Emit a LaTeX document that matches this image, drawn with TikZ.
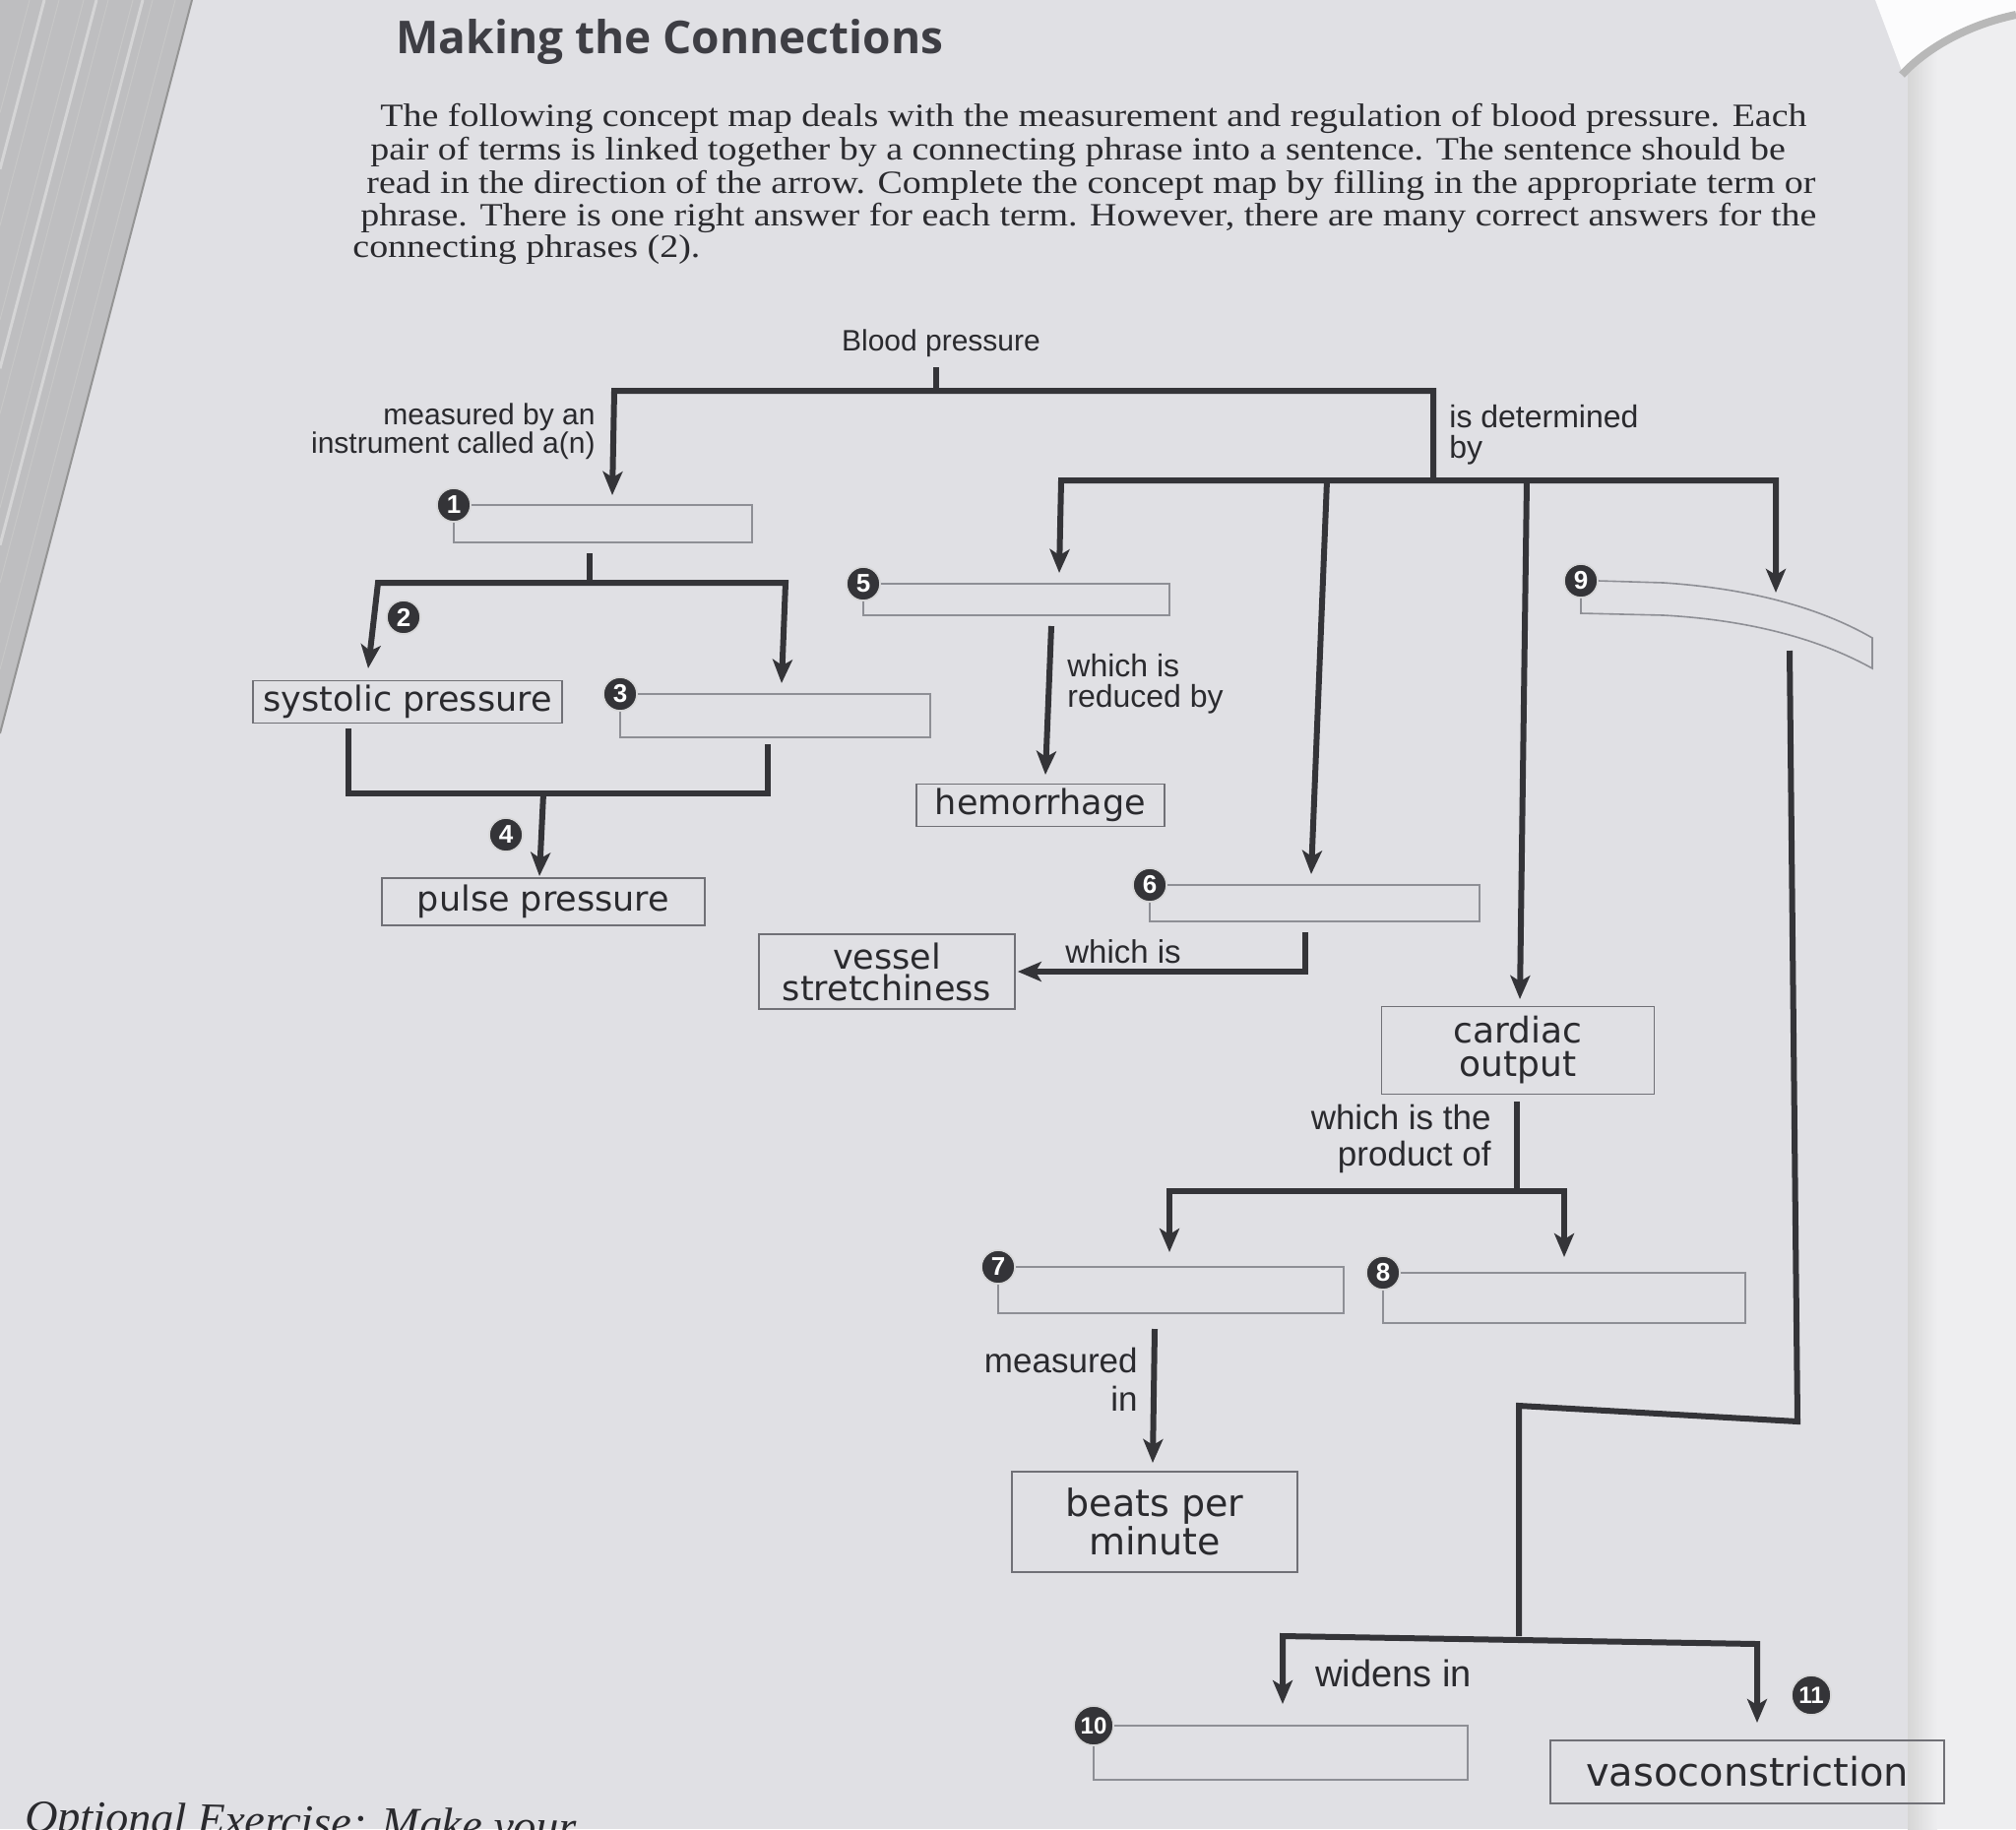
\documentclass[tikz,border=0pt]{standalone}
\usepackage{fontspec}
\setmainfont{Liberation Serif}
\newfontfamily\lblf{Liberation Sans}
\newfontfamily\termf{DejaVu Sans}
\newfontfamily\titlef{Open Sans}
\usetikzlibrary{arrows.meta}
\definecolor{pagebg}{RGB}{224,224,228}
\definecolor{ink}{RGB}{52,52,56}
\definecolor{txt}{RGB}{42,42,46}
\definecolor{titlec}{RGB}{62,62,68}
\definecolor{boxln}{RGB}{112,112,118}
\definecolor{blankln}{RGB}{142,143,149}
\definecolor{edgec}{RGB}{190,190,192}
\newcommand\blankbox[7][num]{%
  \node[#1] (#2n) at (#4,#5) {#3};
  \draw[blank] (#2n.east) -- (#6,#5) -- (#6,#7) -- (#4,#7) -- (#2n.south);
  \coordinate (#2) at ({(#4+#6)/2},{(#5+#7)/2});
}
\newcommand\paraline[1]{\scalebox{1.15}[1]{#1}}
\begin{document}
\begin{tikzpicture}[x=0.5pt,y=-0.5pt,
  line/.style={draw=ink,line width=3pt,line join=miter},
  arr/.style={line,-{Stealth[length=12pt,width=10pt,inset=3pt]}},
  arrb/.style={line,{Stealth[length=12pt,width=10pt,inset=3pt]}-{Stealth[length=12pt,width=10pt,inset=3pt]}},
  term/.style={draw=boxln,line width=0.8pt,text=txt,align=center,inner sep=0pt,
     font=\termf\fontsize{17.5}{16}\selectfont},
  num/.style={circle,fill=ink,draw=white!80!ink,line width=0.8pt,text=white,minimum size=17pt,inner sep=0pt,
     font=\lblf\bfseries\fontsize{13}{13}\selectfont},
  numsm/.style={num,minimum size=20pt,font=\lblf\bfseries\fontsize{12}{12}\selectfont},
  lbl/.style={text=txt,inner sep=0pt},
  blank/.style={draw=blankln,line width=0.8pt},
  para/.style={font=\fontsize{16.5}{16.5}\selectfont,text=txt,anchor=base west,inner sep=0pt}
]
\useasboundingbox (0,0) rectangle (2048,1858);
% page and photo surroundings
\fill[pagebg] (0,0) rectangle (2048,1858);
\fill[pagebg!55!white] (1938,0) rectangle (2048,1858);
\shade[left color=black!16,right color=pagebg!55!white] (1938,0) rectangle (1968,1858);
\fill[edgec] (0,0) -- (195,0) -- (0,745) -- cycle;
\foreach \a in {30,60,85,110,135,155,178} \draw[black!22,line width=0.5pt] (\a,0) -- (0,{\a*3.82});
\foreach \a in {45,98,145} \draw[white!35!edgec,line width=1.5pt] (\a,0) -- (0,{\a*3.82});
\draw[black!42,line width=1pt] (195,0) -- (0,745);
\fill[white!92!pagebg] (1905,0) -- (2048,0) -- (2048,12) .. controls (2000,22) and (1958,45) .. (1932,72) -- cycle;
\draw[black!28,line width=4pt] (2048,15) .. controls (2000,25) and (1958,48) .. (1932,76);

% heading and instructions
\node[font=\titlef\bfseries\fontsize{23}{23}\selectfont,text=titlec,anchor=base west,inner sep=0pt] (title) at (402,54) {Making the Connections};
\node[para] (p1) at (386,128) {\paraline{The following concept map deals with the measurement and regulation of blood pressure. Each}};
\node[para] (p2) at (376,162) {\paraline{pair of terms is linked together by a connecting phrase into a sentence. The sentence should be}};
\node[para] (p3) at (372,196) {\paraline{read in the direction of the arrow. Complete the concept map by filling in the appropriate term or}};
\node[para] (p4) at (366,229) {\paraline{phrase. There is one right answer for each term. However, there are many correct answers for the}};
\node[para] (p5) at (358,261) {\paraline{connecting phrases (2).}};

% root
\node[lbl,font=\lblf\fontsize{15}{15}\selectfont] (bp) at (956,349) {Blood pressure};
\coordinate (bpj) at (951,397);
\coordinate (tbL) at (624,397);
\coordinate (tbR) at (1456,397);
\coordinate (a1) at (622,503);
\coordinate (sbJ) at (1456,488);
\coordinate (sbL) at (1078,488);
\coordinate (sbR) at (1804,488);
\coordinate (a5) at (1076,582);
\coordinate (a9) at (1804,602);
\coordinate (sb6) at (1348,488);
\coordinate (a6) at (1332,888);
\coordinate (sbC) at (1551,488);
\coordinate (aC) at (1544,1015);
\draw[line,shorten <=5pt] (bp.south -| bpj) -- (bpj);
\draw[arr] (sbJ) -- (tbR) -- (tbL) -- (a1);
\draw[arrb] (a5) -- (sbL) -- (sbR) -- (a9);
\draw[arr] (sb6) -- (a6);
\draw[arr] (sbC) -- (aC);
\node[lbl,font=\lblf\fontsize{15}{14.5}\selectfont,align=right,anchor=east] (lmeas) at (605,438) {measured by an\\instrument called a(n)};
\node[lbl,font=\lblf\fontsize{16}{15.5}\selectfont,align=left,anchor=west] (ldet) at (1472,442) {is determined\\by};

% left part
\blankbox{b1}{1}{461}{513}{764}{551}
\coordinate (s1t) at (599,562);
\coordinate (s1j) at (599,592);
\coordinate (br1L) at (384,592);
\coordinate (br1R) at (798,592);
\coordinate (a2) at (374,679);
\coordinate (a3) at (794,694);
\draw[line] (s1t) -- (s1j);
\draw[arrb] (a2) -- (br1L) -- (br1R) -- (a3);
\node[num] (n2) at (410,627) {2};
\node[term,minimum width=157pt,minimum height=21.5pt] (sys) at (414,713) {systolic pressure};
\blankbox{b3}{3}{630}{705}{945}{749}
\coordinate (q1) at (354,740);
\coordinate (q2) at (354,806);
\coordinate (q3) at (780,806);
\coordinate (q4) at (780,756);
\coordinate (q5) at (552,806);
\coordinate (a4) at (548,890);
\draw[line] (q1) -- (q2) -- (q3) -- (q4);
\draw[arr] (q5) -- (a4);
\node[num] (n4) at (514,848) {4};
\node[term,minimum width=164pt,minimum height=24pt] (pulse) at (552,916) {pulse pressure};

% middle part
\blankbox{b5}{5}{877}{593}{1188}{625}
\coordinate (c5) at (1068,636);
\coordinate (a5h) at (1062,787);
\draw[arr] (c5) -- (a5h);
\node[lbl,font=\lblf\fontsize{16}{15.5}\selectfont,align=left,anchor=west] (lred) at (1084,695) {which is\\reduced by};
\node[term,minimum width=126pt,minimum height=21.5pt] (hem) at (1057,818) {hemorrhage};
\blankbox{b6}{6}{1168}{899}{1503}{936}
\node[term,minimum width=130pt,minimum height=38pt] (vess) at (901,987) {vessel\\stretchiness};
\coordinate (c6) at (1326,947);
\draw[arr] (c6) |- ([xshift=1pt]vess.east);
\node[lbl,font=\lblf\fontsize{16.5}{16}\selectfont,anchor=west] (lwi) at (1082,967) {which is};

% cardiac output part
\node[term,font=\termf\fontsize{18}{17}\selectfont,minimum width=138.5pt,minimum height=44.5pt] (co) at (1542,1067) {cardiac\\output};
\coordinate (cj) at (1541,1210);
\coordinate (cjL) at (1188,1210);
\coordinate (cjR) at (1589,1210);
\coordinate (a7) at (1188,1272);
\coordinate (a8) at (1589,1277);
\draw[line,shorten <=3.5pt] (co.south -| cj) -- (cj);
\draw[arrb] (a7) -- (cjL) -- (cjR) -- (a8);
\node[lbl,font=\lblf\fontsize{17.5}{18.5}\selectfont,align=right,anchor=east] (lprod) at (1515,1157) {which is the\\product of};
\blankbox{b7}{7}{1014}{1287}{1365}{1334}
\blankbox{b8}{8}{1405}{1293}{1773}{1344}
\coordinate (c7) at (1173,1350);
\coordinate (a7b) at (1171,1486);
\draw[arr] (c7) -- (a7b);
\node[lbl,font=\lblf\fontsize{17.5}{19.5}\selectfont,align=right,anchor=east] (lmin) at (1156,1401) {measured\\in};
\node[term,font=\termf\fontsize{19}{18}\selectfont,minimum width=145pt,minimum height=51pt] (bpm) at (1173,1546) {beats per\\minute};

% right part
\node[num] (n9) at (1606,590) {9};
\draw[blank] (n9.east) -- (1690,592) .. controls (1780,598) and (1850,618) .. (1902,648) -- (1902,679) .. controls (1850,650) and (1780,630) .. (1690,625) -- (1606,623) -- (n9.south);
\coordinate (r1) at (1818,661);
\coordinate (r2) at (1826,1444);
\coordinate (r3) at (1543,1428);
\coordinate (rj) at (1543,1662);
\coordinate (rjL) at (1303,1662);
\coordinate (rjR) at (1785,1670);
\coordinate (a10) at (1303,1731);
\coordinate (a11) at (1785,1750);
\draw[line] (r1) -- (r2) -- (r3) -- (rj);
\draw[arrb] (a10) -- (rjL) -- (rjR) -- (a11);
\node[lbl,font=\lblf\fontsize{19}{19}\selectfont,anchor=west] (lwid) at (1336,1700) {widens in};
\node[numsm] (n11) at (1840,1722) {11};
\blankbox[numsm]{b10}{10}{1111}{1753}{1491}{1808}
\node[term,font=\termf\fontsize{20}{20}\selectfont,minimum width=200pt,minimum height=32pt] (vaso) at (1775,1800) {vasoconstriction};

% next exercise, cut by the photo
\node[font=\itshape\fontsize{23}{23}\selectfont,text=txt,anchor=base west,inner sep=0pt,rotate=-1.2] (opt) at (25,1860) {Optional Exercise: Make your};
\end{tikzpicture}
\end{document}
